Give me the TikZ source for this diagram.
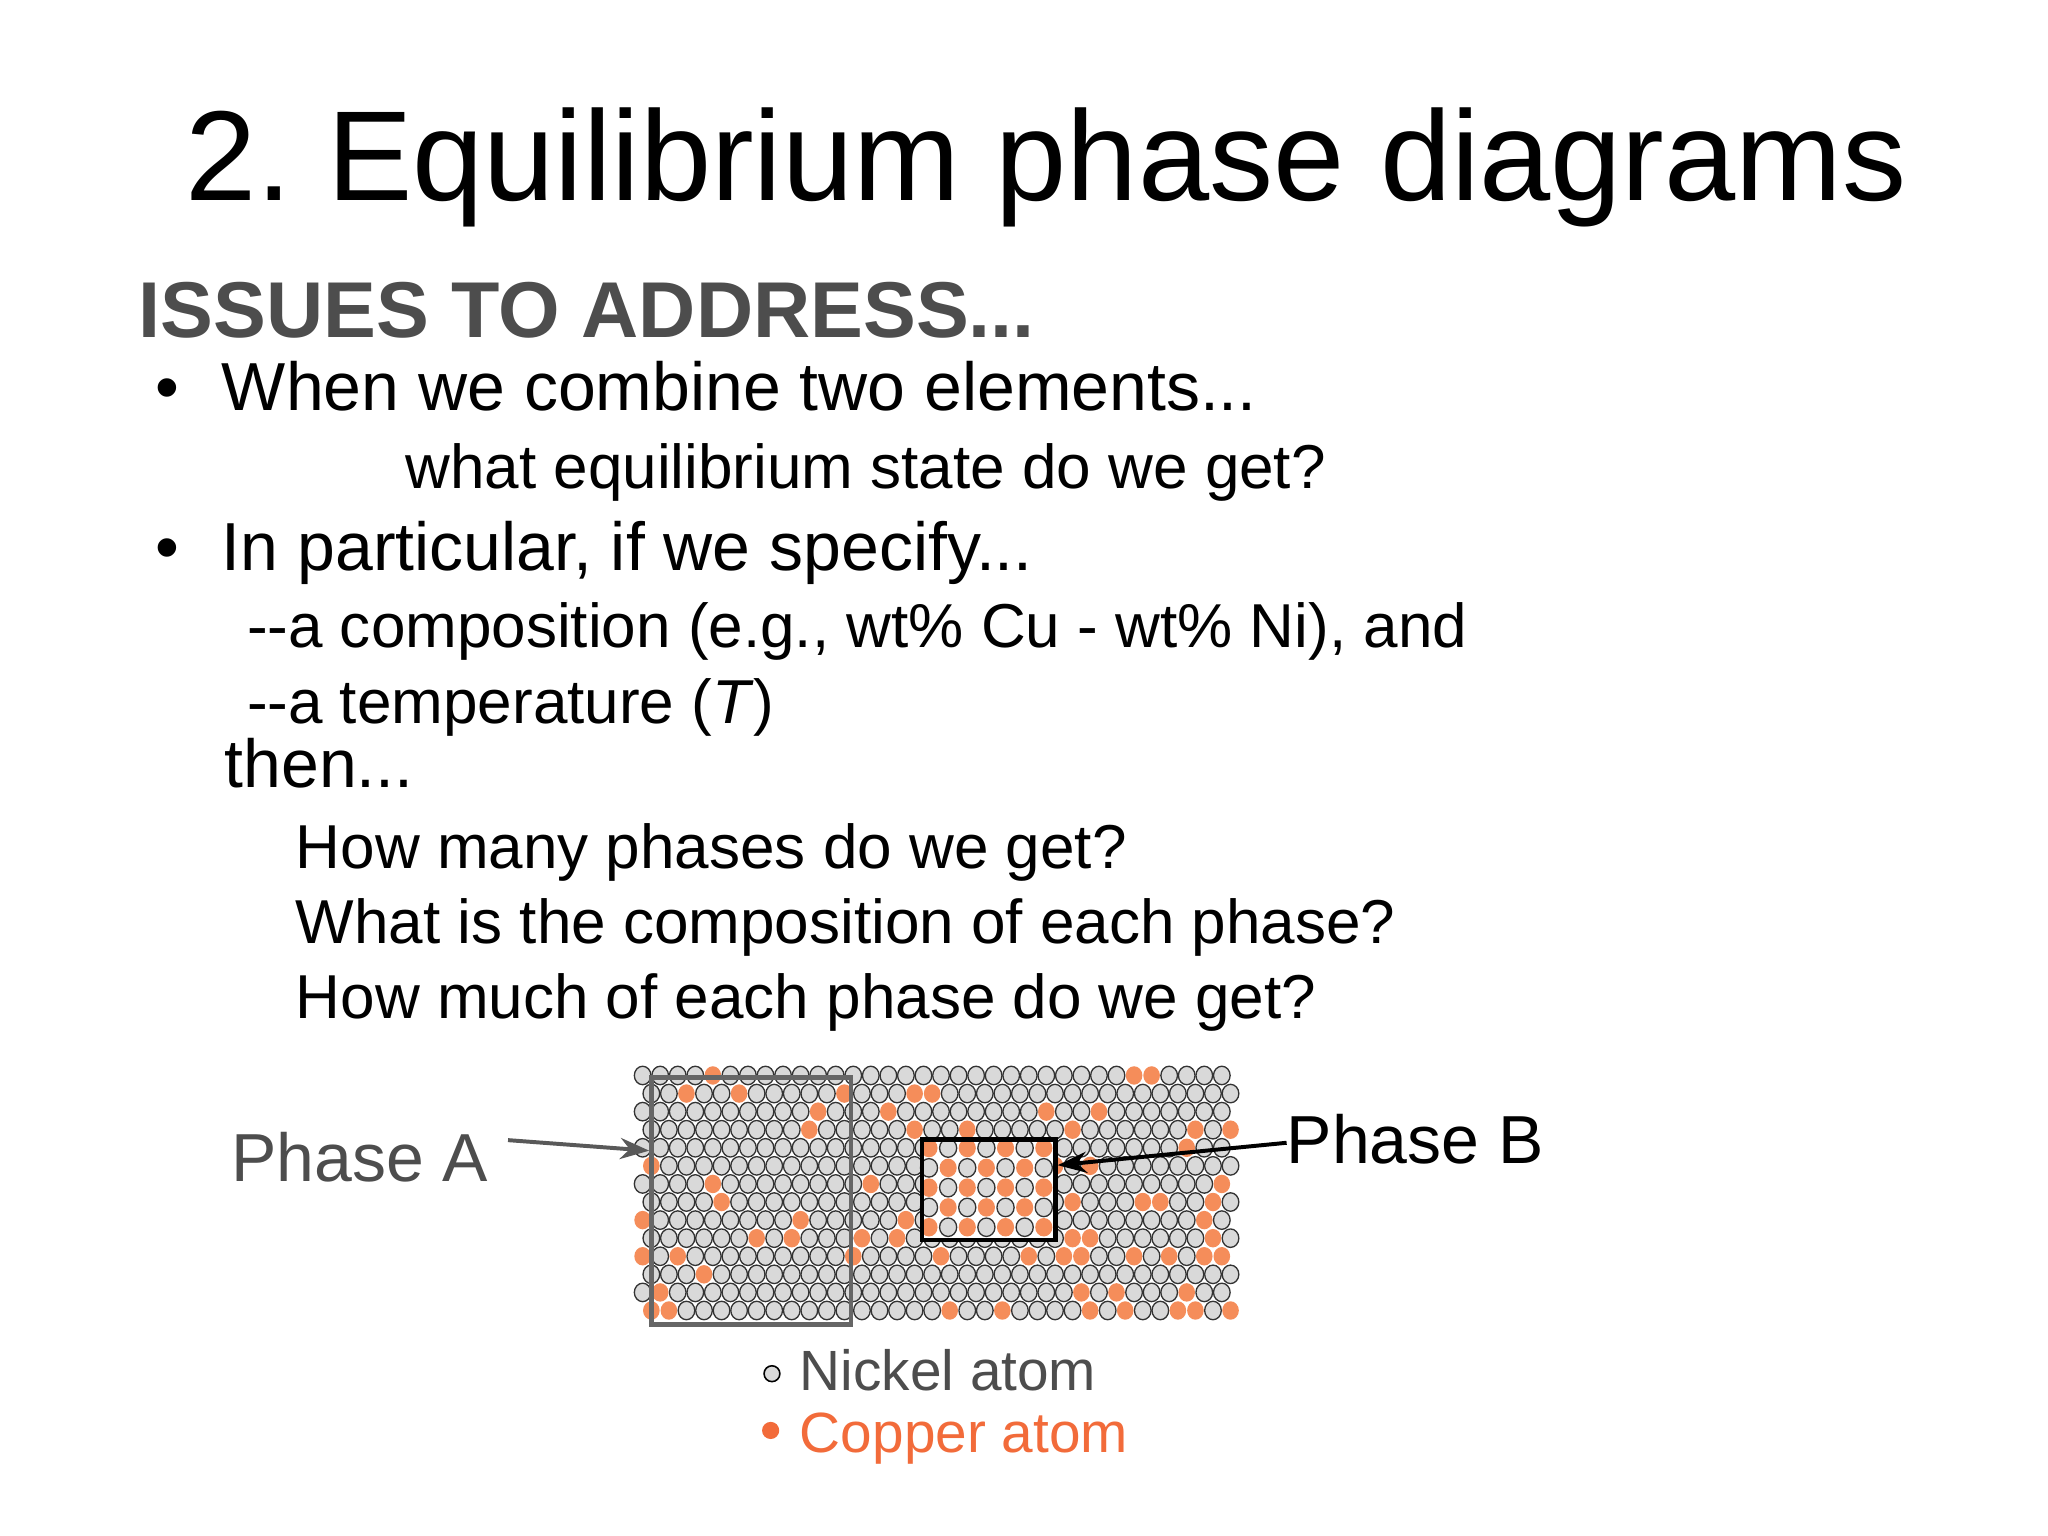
\documentclass[tikz,border=0pt]{standalone}
\usepackage{fontspec}
\setmainfont{Liberation Sans}
\usetikzlibrary{arrows.meta}
\definecolor{txtgray}{HTML}{4D4D4D}
\definecolor{cu}{HTML}{F58D5A}
\definecolor{cutext}{HTML}{F26B3A}
\definecolor{ni}{HTML}{D9D9D9}
\tikzset{
  txt/.style={anchor=base west,inner sep=0pt,font=\fontsize{47}{52}\selectfont},
  big/.style={txt,font=\fontsize{51.5}{56}\selectfont},
  niatom/.style={draw=black!80,line width=1pt,fill=ni},
  cuatom/.style={fill=cu},
  arr/.style={-{Stealth[length=22pt,width=16pt]},line width=3pt}
}
\begin{document}
\frenchspacing
\begin{tikzpicture}[x=1pt,y=-1pt]
\useasboundingbox (0,0) rectangle (1552,1164);
\fill[white] (0,0) rectangle (1552,1164);
\node[txt,font=\fontsize{97}{104}\selectfont] (title) at (140,152) {2. Equilibrium phase diagrams};
\node[txt,font=\bfseries\fontsize{60}{64}\selectfont,text=txtgray] (issues) at (105,256) {ISSUES TO ADDRESS...};
\node[big] (b1) at (118,311) {•};
\node[big] (l1) at (168,311) {When we combine two elements...};
\node[txt] (l2) at (307,370) {what equilibrium state do we get?};
\node[big] (b2) at (118,432) {•};
\node[big] (l3) at (168,432) {In particular, if we specify...};
\node[txt] (l4) at (187,491) {-{}-a composition (e.g., wt\% Cu - wt\% Ni), and};
\node[txt] (l5) at (187,548) {-{}-a temperature (\textit{T})};
\node[big] (l6) at (170,597) {then...};
\node[txt] (l7) at (224,658) {How many phases do we get?};
\node[txt] (l8) at (224,715) {What is the composition of each phase?};
\node[txt] (l9) at (224,772) {How much of each phase do we get?};

% atoms
\pgfmathsetseed{11}
\foreach \r in {0,...,13}{
  \foreach \c in {0,...,33}{
    \pgfmathsetmacro\xx{487+\c*13.3+mod(\r,2)*6.6}
    \pgfmathsetmacro\yy{815+\r*13.7}
    \pgfmathsetmacro\rr{rnd}
    \ifdim\rr pt<0.13pt
      \fill[cuatom] (\xx,\yy) ellipse (6.3 and 7);
    \else
      \draw[niatom] (\xx,\yy) ellipse (6.3 and 7);
    \fi
  }
}
% phase B interior
\fill[white] (697,862) rectangle (798,938);
\foreach \r in {0,...,4}{
  \foreach \c in {0,...,6}{
    \pgfmathsetmacro\xx{704+\c*14.5}
    \pgfmathsetmacro\yy{870+\r*15}
    \pgfmathtruncatemacro\m{mod(\c+\r,2)}
    \ifnum\m=0
      \fill[cuatom] (\xx,\yy) ellipse (6.5 and 7);
    \else
      \draw[niatom] (\xx,\yy) ellipse (6.5 and 7);
    \fi
  }
}
\node[draw=black!60,line width=3.5pt,minimum width=151pt,minimum height=187pt,inner sep=0pt,anchor=north west] (pa) at (492,815) {};
\node[draw=black,line width=3.5pt,minimum width=101pt,minimum height=76pt,inner sep=0pt,anchor=north west] (pb) at (697,862) {};

\node[big,text=txtgray] (phA) at (175,895) {Phase A};
\node[big] (phB) at (975,882) {Phase B};
\coordinate (aa) at (385,864);
\draw[arr,draw=black!65] (aa) -- (pa.west |- 0,872);
\draw[arr] (phB.west |- 0,866) -- (pb.east |- 0,883);

\draw[line width=1.2pt,fill=ni] (585,1041) circle (6);
\node[txt,font=\fontsize{43}{46}\selectfont,text=txtgray] (nick) at (606,1054) {Nickel atom};
\fill[cutext] (584,1084) circle (6.5);
\node[txt,font=\fontsize{43}{46}\selectfont,text=cutext] (copp) at (606,1101) {Copper atom};
\end{tikzpicture}
\end{document}
